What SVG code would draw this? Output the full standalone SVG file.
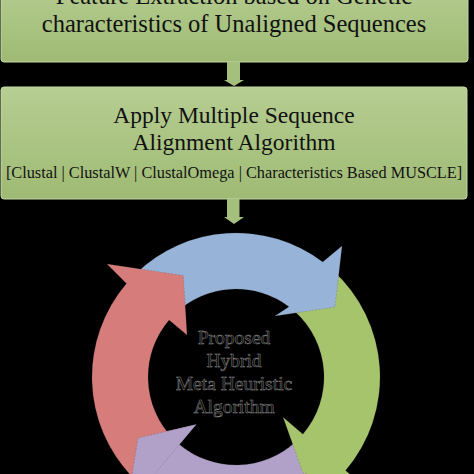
<svg xmlns="http://www.w3.org/2000/svg" width="474" height="474" viewBox="0 0 474 474">
<defs>
<linearGradient id="boxg" x1="0" y1="0" x2="0" y2="1">
<stop offset="0" stop-color="#b6ce92"/>
<stop offset="1" stop-color="#9fba74"/>
</linearGradient>
<style>
.box{fill:url(#boxg);stroke:#c3d7a5;stroke-width:1}
.t{font-family:"Liberation Serif","Times New Roman",serif;fill:#111;text-anchor:middle}
.c{font-family:"Liberation Serif","Times New Roman",serif;fill:#000;stroke:#8c8c8c;stroke-width:0.5;text-anchor:middle;font-size:19.5px}
.flow{fill:#a5c07c}
.arr{stroke:#5a5a5a;stroke-width:0.5;stroke-dasharray:2 1.5;stroke-opacity:0.6}
</style>
</defs>
<rect x="0" y="0" width="474" height="474" fill="#000"/>

<g id="node-feature">
<rect class="box" x="1" y="-20" width="467" height="82" rx="3"/>
<text class="t" x="234" y="3.5" font-size="24.5">Feature Extraction based on Genetic</text>
<text class="t" x="234" y="32" font-size="24.5">characteristics of Unaligned Sequences</text>
</g>

<g id="node-msa">
<rect class="box" x="1" y="87" width="466" height="112" rx="3"/>
<text class="t" x="234" y="123" font-size="23.5">Apply Multiple Sequence</text>
<text class="t" x="234" y="150" font-size="23.5">Alignment Algorithm</text>
<text class="t" x="234" y="178" font-size="16.3">[Clustal | ClustalW | ClustalOmega | Characteristics Based MUSCLE]</text>
</g>

<g id="connectors">
<path class="flow" d="M227,62 H240 V80 H244 L234,86 L224,80 H227 Z"/>
<path class="flow" d="M227,199 H239.5 V217 H244 L234,224 L224,217 H227 Z"/>
</g>

<g id="node-cycle">
<path id="arrow-purple" class="arr" fill="#b1a0c8" d="M334.2,482.3 A144,144 0 0 1 143.4,487.3 L126.7,507.2 L138,438 L196.1,424.5 L179.4,444.4 A88,88 0 0 0 296,441.4 Z"/>
<path id="arrow-green" class="arr" fill="#a6c46c" d="M332.4,270 A144,144 0 0 1 345.5,470.5 L365.3,487.4 L303,473 L283.1,417.3 L302.9,434.2 A88,88 0 0 0 294.9,311.6 Z"/>
<path id="arrow-blue" class="arr" fill="#97b4d8" d="M136,273.4 A144,144 0 0 1 322.7,262 L342,246 L335,307 L275,316 L289,306.7 A88,88 0 0 0 174.9,313.7 Z"/>
<path id="arrow-red" class="arr" fill="#d67d7b" d="M132.4,477 A144,144 0 0 1 126.5,283.5 L107,264 L183.3,275.5 L187,335 L169.1,319.9 A88,88 0 0 0 172.7,438.1 Z"/>
<path id="arrow-purple-head" class="arr" fill="#b1a0c8" d="M143.4,487.3 L126.7,507.2 L138,438 L196.1,424.5 L179.4,444.4 Z"/>
<text class="c" x="234" y="344">Proposed</text>
<text class="c" x="234" y="367">Hybrid</text>
<text class="c" x="234" y="390">Meta Heuristic</text>
<text class="c" x="234" y="413">Algorithm</text>
</g>
</svg>
